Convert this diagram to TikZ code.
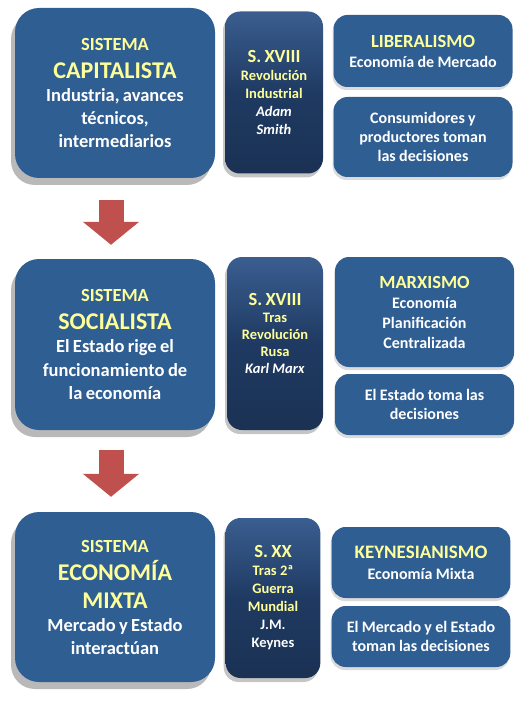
\documentclass[tikz,border=0pt]{standalone}
\usepackage{fontspec}
\setmainfont{Carlito}
\usetikzlibrary{arrows.meta,shadows}
\definecolor{sysblue}{HTML}{2F5E93}
\definecolor{darkblue}{HTML}{1F3A62}
\definecolor{darkedge}{HTML}{3A5E90}
\definecolor{paleyellow}{HTML}{FFFF99}
\definecolor{arrowred}{HTML}{C0504D}
\tikzset{
  sysbox/.style={fill=sysblue, rounded corners=24pt, minimum width=200pt, minimum height=170pt,
    text width=190pt, align=center, text=white, font=\bfseries,
    drop shadow={shadow xshift=-4pt, shadow yshift=-7pt, fill=black!50, opacity=0.55}},
  erabox/.style={top color=darkedge, bottom color=darkblue!85!black, middle color=darkblue,
    rounded corners=15pt, minimum height=162pt, text width=88pt, align=center,
    text=white, font=\bfseries,
    drop shadow={shadow xshift=-2pt, shadow yshift=-4pt, fill=black!45, opacity=0.5}},
  ideabox/.style={fill=sysblue, rounded corners=14pt, minimum width=179pt,
    text width=172pt, align=center, text=white, font=\bfseries,
    drop shadow={shadow xshift=-1pt, shadow yshift=-3pt, fill=black!35, opacity=0.4}},
  bigarrow/.style={line width=25pt, arrowred, -{Triangle[width=55pt,length=23pt]}}
}
\newcommand{\sysfont}{\fontsize{18.5}{23}\selectfont}
\newcommand{\sysbig}{\fontsize{24}{28}\selectfont}
\newcommand{\erafont}{\fontsize{14.5}{18}\selectfont}
\newcommand{\eratitle}{\fontsize{18.5}{20}\selectfont}
\newcommand{\ideafont}{\fontsize{16}{19}\selectfont}
\newcommand{\ideatitle}{\fontsize{18.5}{20}\selectfont}
\newcommand{\yl}[1]{\textcolor{paleyellow}{#1}}

\begin{document}
\begin{tikzpicture}[x=1pt,y=-1pt]
  %%%%% START %%%%%
  \useasboundingbox (0,0) rectangle (515,703);

  % capitalismo
  \node[sysbox] (cap) at (115,93) {\sysfont\yl{SISTEMA}\par \sysbig\yl{CAPITALISTA}\par \sysfont Industria, avances\par técnicos,\par intermediarios\par};
  \node[erabox, minimum width=98pt] (xviiia) at (274,92.5) {\eratitle\yl{S. XVIII}\par \erafont\yl{Revolución}\par \yl{Industrial}\par \textit{Adam}\par \textit{Smith}\par};
  \node[ideabox, minimum height=72pt] (lib) at (423,51) {\ideatitle\yl{LIBERALISMO}\par \fontsize{16}{20}\selectfont Economía de Mercado\par};
  \node[ideabox, minimum height=80pt] (cons) at (423,137) {\ideafont Consumidores y\par productores toman\par las decisiones\par};

  % socialismo
  \node[sysbox, minimum height=171pt] (soc) at (115,344.5) {\sysfont\yl{SISTEMA}\par \sysbig\yl{SOCIALISTA}\par \sysfont El Estado rige el\par funcionamiento de\par la economía\par};
  \node[erabox, minimum width=96pt, minimum height=173pt] (xviiib) at (275,343.5) {\eratitle\yl{S. XVIII}\par \fontsize{14.5}{17}\selectfont\yl{Tras}\par \yl{Revolución}\par \yl{Rusa}\par \textit{Karl Marx}\par\vspace*{20pt}};
  \node[ideabox, minimum height=110pt] (marx) at (424.5,312) {\ideatitle\yl{MARXISMO}\par \fontsize{16}{20}\selectfont Economía\par Planificación\par Centralizada\par};
  \node[ideabox, minimum height=61pt] (est) at (424.5,404.5) {\ideafont El Estado toma las\par decisiones\par};

  % economia mixta
  \node[sysbox] (mix) at (115,597) {\sysfont\yl{SISTEMA}\par \sysbig\yl{ECONOMÍA}\par \yl{MIXTA}\par \sysfont Mercado y Estado\par interactúan\par};
  \node[erabox, minimum width=90pt, minimum height=160pt] (xx) at (273,598) {\eratitle\yl{S. XX}\par \erafont\yl{Tras 2ª}\par \yl{Guerra}\par \yl{Mundial}\par J.M.\par Keynes\par};
  \node[ideabox, minimum width=178pt, minimum height=71pt] (key) at (421,562.5) {\fontsize{19}{20}\selectfont\yl{KEYNESIANISMO}\par \fontsize{16}{21}\selectfont Economía Mixta\par};
  \node[ideabox, minimum width=178pt, minimum height=61pt] (merc) at (421,636.5) {\ideafont El Mercado y el Estado\par toman las decisiones\par};

  % flechas
  \draw[bigarrow] ([xshift=-4pt,yshift=-22pt]cap.south) -- ([xshift=-4pt,yshift=14pt]soc.north);
  \draw[bigarrow] ([xshift=-4pt,yshift=-20pt]soc.south) -- ([xshift=-4pt,yshift=15pt]mix.north);
  %%%%% END %%%%%
\end{tikzpicture}
\end{document}
